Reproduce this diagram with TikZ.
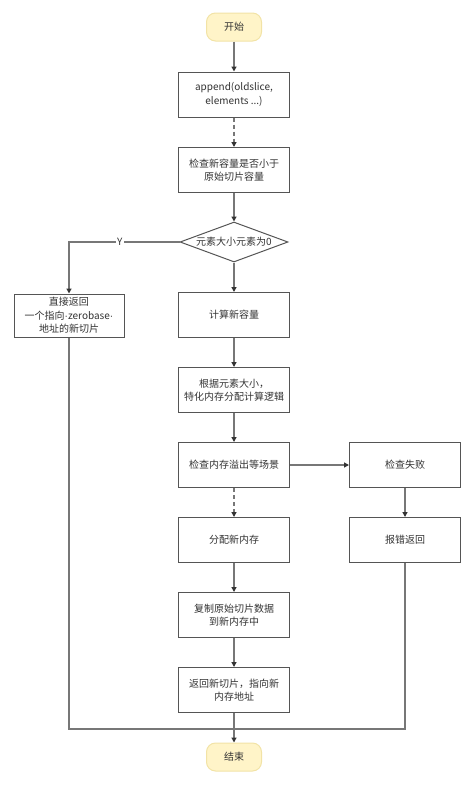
\documentclass[tikz,border=0pt]{standalone}
\usepackage{fontspec}
\setmainfont{Noto Sans CJK SC}
\newfontfamily\latinfont{Liberation Sans}
\usetikzlibrary{arrows.meta,shapes.geometric}
\definecolor{txt}{HTML}{333333}
\definecolor{boxc}{HTML}{555555}
\definecolor{linec}{HTML}{777777}
\definecolor{termf}{HTML}{FFF4C8}
\definecolor{termb}{HTML}{F2E3A6}
\begin{document}
\begin{tikzpicture}[x=1pt,y=-1pt,
  font=\fontsize{10}{13.5}\selectfont, text=txt,
  box/.style={draw=boxc, line width=1pt, fill=white, minimum width=111pt, minimum height=45pt, align=center, inner sep=0pt},
  term/.style={draw=termb, fill=termf, rounded corners=9pt, minimum width=55pt, minimum height=28pt, line width=1pt, inner sep=0pt},
  dec/.style={diamond, draw=boxc, line width=1pt, fill=white, aspect=2.7, inner sep=0pt, minimum width=108pt, minimum height=40pt},
  conn/.style={draw=linec, line width=1.3pt, -{Triangle[width=5pt,length=5pt,color=txt]}},
  plainconn/.style={draw=linec, line width=1.3pt},
  dashconn/.style={draw=linec, line width=1.3pt, dash pattern=on 4pt off 3pt, -{Triangle[width=5pt,length=5pt,color=txt]}}
]
\useasboundingbox (0,0) rectangle (474,785);
\node[term] (start) at (234,27) {开始};
\node[box] (app) at (234,94.5) {append(oldslice,\\elements ...)};
\node[box] (chk) at (234,170) {检查新容量是否小于\\原始切片容量};
\node[dec] (dec) at (234,242) {元素大小元素为0};
\node[box, minimum width=110pt, minimum height=43pt] (zero) at (69,315.5) {直接返回\\一个指向{\latinfont ·}zerobase{\latinfont ·}\\地址的新切片};
\node[box] (calc) at (234,315) {计算新容量};
\node[box] (spec) at (234,390) {根据元素大小，\\特化内存分配计算逻辑};
\node[box] (over) at (234,465) {检查内存溢出等场景};
\node[box] (fail) at (405,465) {检查失败};
\node[box] (alloc) at (234,540) {分配新内存};
\node[box] (err) at (405,540) {报错返回};
\node[box] (copy) at (234,615) {复制原始切片数据\\到新内存中};
\node[box] (ret) at (234,690) {返回新切片，指向新\\内存地址};
\node[term] (end) at (234,757) {结束};
\coordinate (jn) at (234,729);

\draw[conn] (start) -- (app);
\draw[dashconn] (app) -- (chk);
\draw[conn] (chk) -- (dec);
\draw[conn] (dec.west) -| node[pos=0.27, fill=white, inner sep=1.5pt, text=txt] {Y} (zero.north);
\draw[conn] (dec) -- (calc);
\draw[conn] (calc) -- (spec);
\draw[conn] (spec) -- (over);
\draw[conn] (over) -- (fail);
\draw[dashconn] (over) -- (alloc);
\draw[conn] (fail) -- (err);
\draw[conn] (alloc) -- (copy);
\draw[conn] (copy) -- (ret);
\draw[plainconn] (zero.south) |- (jn);
\draw[plainconn] (err.south) |- (jn);
\draw[conn] (ret) -- (end);
\end{tikzpicture}
\end{document}
